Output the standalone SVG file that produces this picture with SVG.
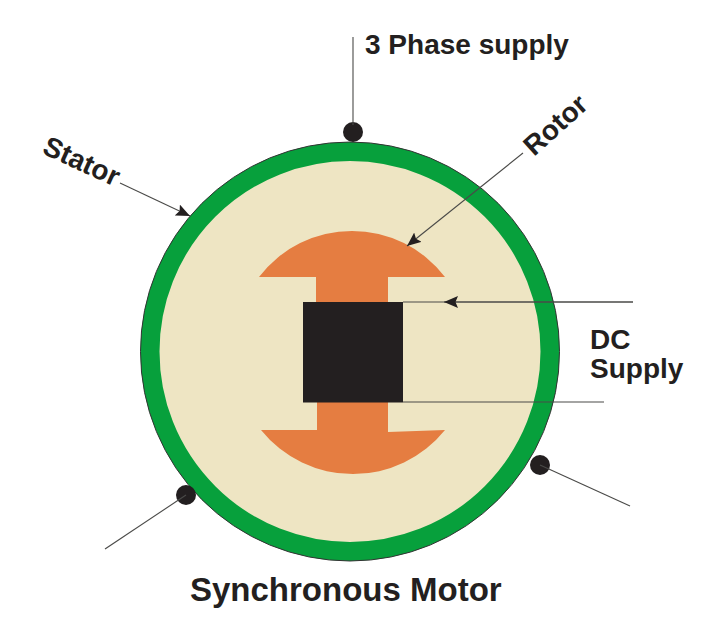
<svg xmlns="http://www.w3.org/2000/svg" width="720" height="634" viewBox="0 0 720 634">
<style>
.t{font-family:"Liberation Sans",Arial,sans-serif;font-weight:700;fill:#231f20;font-size:28px}
.l{stroke:#4a4a48;stroke-width:1.1;fill:none}
.d{fill:#231f20}
.p{fill:#e57d41}
</style>
<defs>
<marker id="a" viewBox="0 0 14 12" refX="14" refY="6" markerWidth="14" markerHeight="12" markerUnits="userSpaceOnUse" orient="auto"><path d="M0 0L14 6L0 12L2.500 6Z" fill="#231f20"/></marker>
</defs>
<rect width="720" height="634" fill="#fff"/>
<g id="stator"><circle cx="350" cy="351.500" r="200" fill="#eee5c3" stroke="#07a03c" stroke-width="19"/><circle cx="350" cy="351.500" r="209.500" fill="none" stroke="#333" stroke-width="1"/></g>
<g id="rotor">
<path class="p" d="M259 277A117 117 0 0 1 445 277L388 277V302H316V277Z"/>
<path class="p" d="M261 430A118 118 0 0 0 445 430L388 432V402H317V430Z"/>
<rect x="303" y="302" width="100" height="100.500" fill="#231f20"/>
</g>
<g id="terminals">
<circle class="d" cx="353" cy="132" r="10"/>
<circle class="d" cx="540" cy="465" r="10"/>
<circle class="d" cx="186" cy="495" r="10"/>
</g>
<g id="connectors">
<path class="l" d="M353 37V125"/>
<path class="l" d="M120 183L190 216" marker-end="url(#a)"/>
<path class="l" d="M523 153L407 246" marker-end="url(#a)"/>
<path class="l" d="M633 302H403"/>
<path class="l" d="M633 302H444" marker-end="url(#a)"/>
<path class="l" d="M403 402H604"/>
<path class="l" d="M540 465L630 506"/>
<path class="l" d="M186 495L105 549"/>
</g>
<g id="labels">
<text class="t" x="365" y="54">3 Phase supply</text>
<text class="t" transform="translate(41 153) rotate(24.600)">Stator</text>
<text class="t" transform="translate(534 157) rotate(-42)">Rotor</text>
<text class="t" x="590" y="349">DC</text>
<text class="t" x="590" y="378">Supply</text>
<text class="t" x="190" y="601" style="font-size:33px">Synchronous Motor</text>
</g>
</svg>
